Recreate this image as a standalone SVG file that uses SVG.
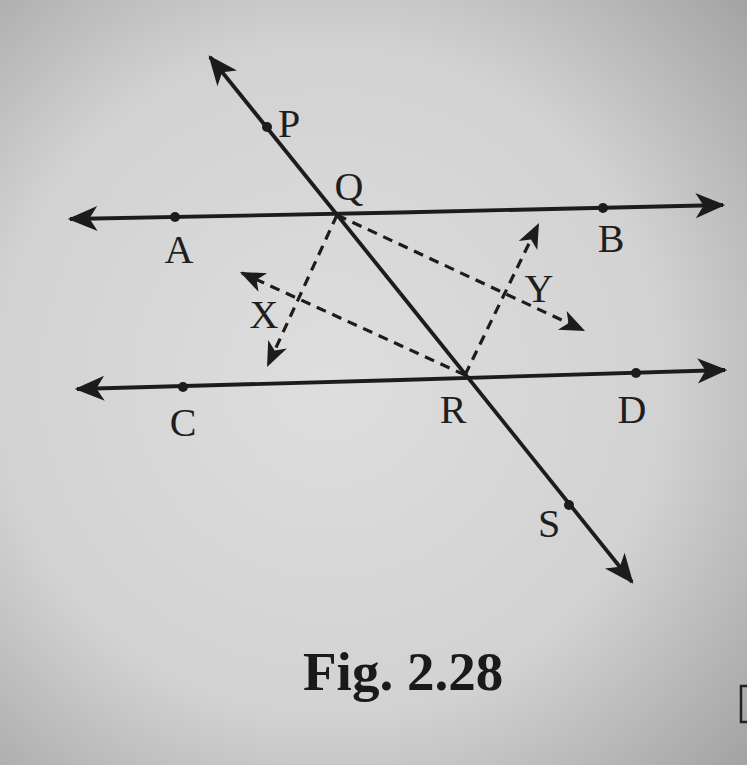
<svg xmlns="http://www.w3.org/2000/svg" width="747" height="765" viewBox="0 0 747 765">
<defs>
<radialGradient id="bg" cx="330" cy="380" r="560" gradientUnits="userSpaceOnUse">
<stop offset="0" stop-color="#dedede"/>
<stop offset="0.6" stop-color="#d2d2d2"/>
<stop offset="1" stop-color="#a4a4a4"/>
</radialGradient>
<marker id="ah" markerUnits="userSpaceOnUse" markerWidth="40" markerHeight="40" viewBox="-30 -15 35 30" refX="0" refY="0" orient="auto" overflow="visible">
<path d="M2,0 L-24,-11 L-17,0 L-24,11 Z" fill="#1c1c1c"/>
</marker>
<marker id="ahs" markerUnits="userSpaceOnUse" markerWidth="40" markerHeight="40" viewBox="-30 -15 35 30" refX="0" refY="0" orient="auto" overflow="visible">
<path d="M2,0 L-20,-9 L-14,0 L-20,9 Z" fill="#1c1c1c"/>
</marker>
</defs>
<style>
.ln{stroke:#1c1c1c;stroke-width:3.8;fill:none;marker-end:url(#ah)}
.ds{stroke:#1c1c1c;stroke-width:3.2;fill:none;stroke-dasharray:10 7;marker-end:url(#ahs)}
.dot{fill:#1c1c1c}
.lb{font-family:"Liberation Serif",serif;font-size:40px;fill:#1e1e1e;text-anchor:middle}
.cap{font-family:"Liberation Serif",serif;font-size:55px;font-weight:bold;fill:#1a1a1a}
</style>
<rect width="747" height="765" fill="url(#bg)"/>
<g id="connectors">
<line class="ln" x1="400" y1="212.5" x2="70" y2="219"/>
<line class="ln" x1="400" y1="212.5" x2="723" y2="205"/>
<line class="ln" x1="400" y1="380" x2="77" y2="389"/>
<line class="ln" x1="400" y1="380" x2="725" y2="370"/>
<line class="ln" x1="400" y1="293" x2="210" y2="57"/>
<line class="ln" x1="400" y1="293" x2="632" y2="582"/>
<line class="ds" x1="337" y1="215" x2="268" y2="365"/>
<line class="ds" x1="337" y1="215" x2="583" y2="330"/>
<line class="ds" x1="465" y1="375" x2="242" y2="273"/>
<line class="ds" x1="465" y1="375" x2="538" y2="225"/>
</g>
<g id="A"><circle class="dot" cx="175" cy="217" r="5"/><text class="lb" x="179" y="263">A</text></g>
<g id="B"><circle class="dot" cx="603" cy="208" r="5"/><text class="lb" x="611" y="252">B</text></g>
<g id="C"><circle class="dot" cx="183" cy="387" r="5"/><text class="lb" x="183" y="436">C</text></g>
<g id="D"><circle class="dot" cx="636" cy="373" r="5"/><text class="lb" x="632" y="423">D</text></g>
<g id="P"><circle class="dot" cx="267" cy="127" r="5"/><text class="lb" x="289" y="137">P</text></g>
<g id="Q"><text class="lb" x="349" y="200">Q</text></g>
<g id="R"><text class="lb" x="453" y="423">R</text></g>
<g id="S"><circle class="dot" cx="569" cy="505" r="5"/><text class="lb" x="549" y="537">S</text></g>
<g id="X"><text class="lb" x="264" y="328">X</text></g>
<g id="Y"><text class="lb" x="539" y="302">Y</text></g>
<text class="cap" x="303" y="690">Fig. 2.28</text>
<rect x="741" y="686" width="12" height="36" fill="none" stroke="#222" stroke-width="2.5"/>
</svg>
